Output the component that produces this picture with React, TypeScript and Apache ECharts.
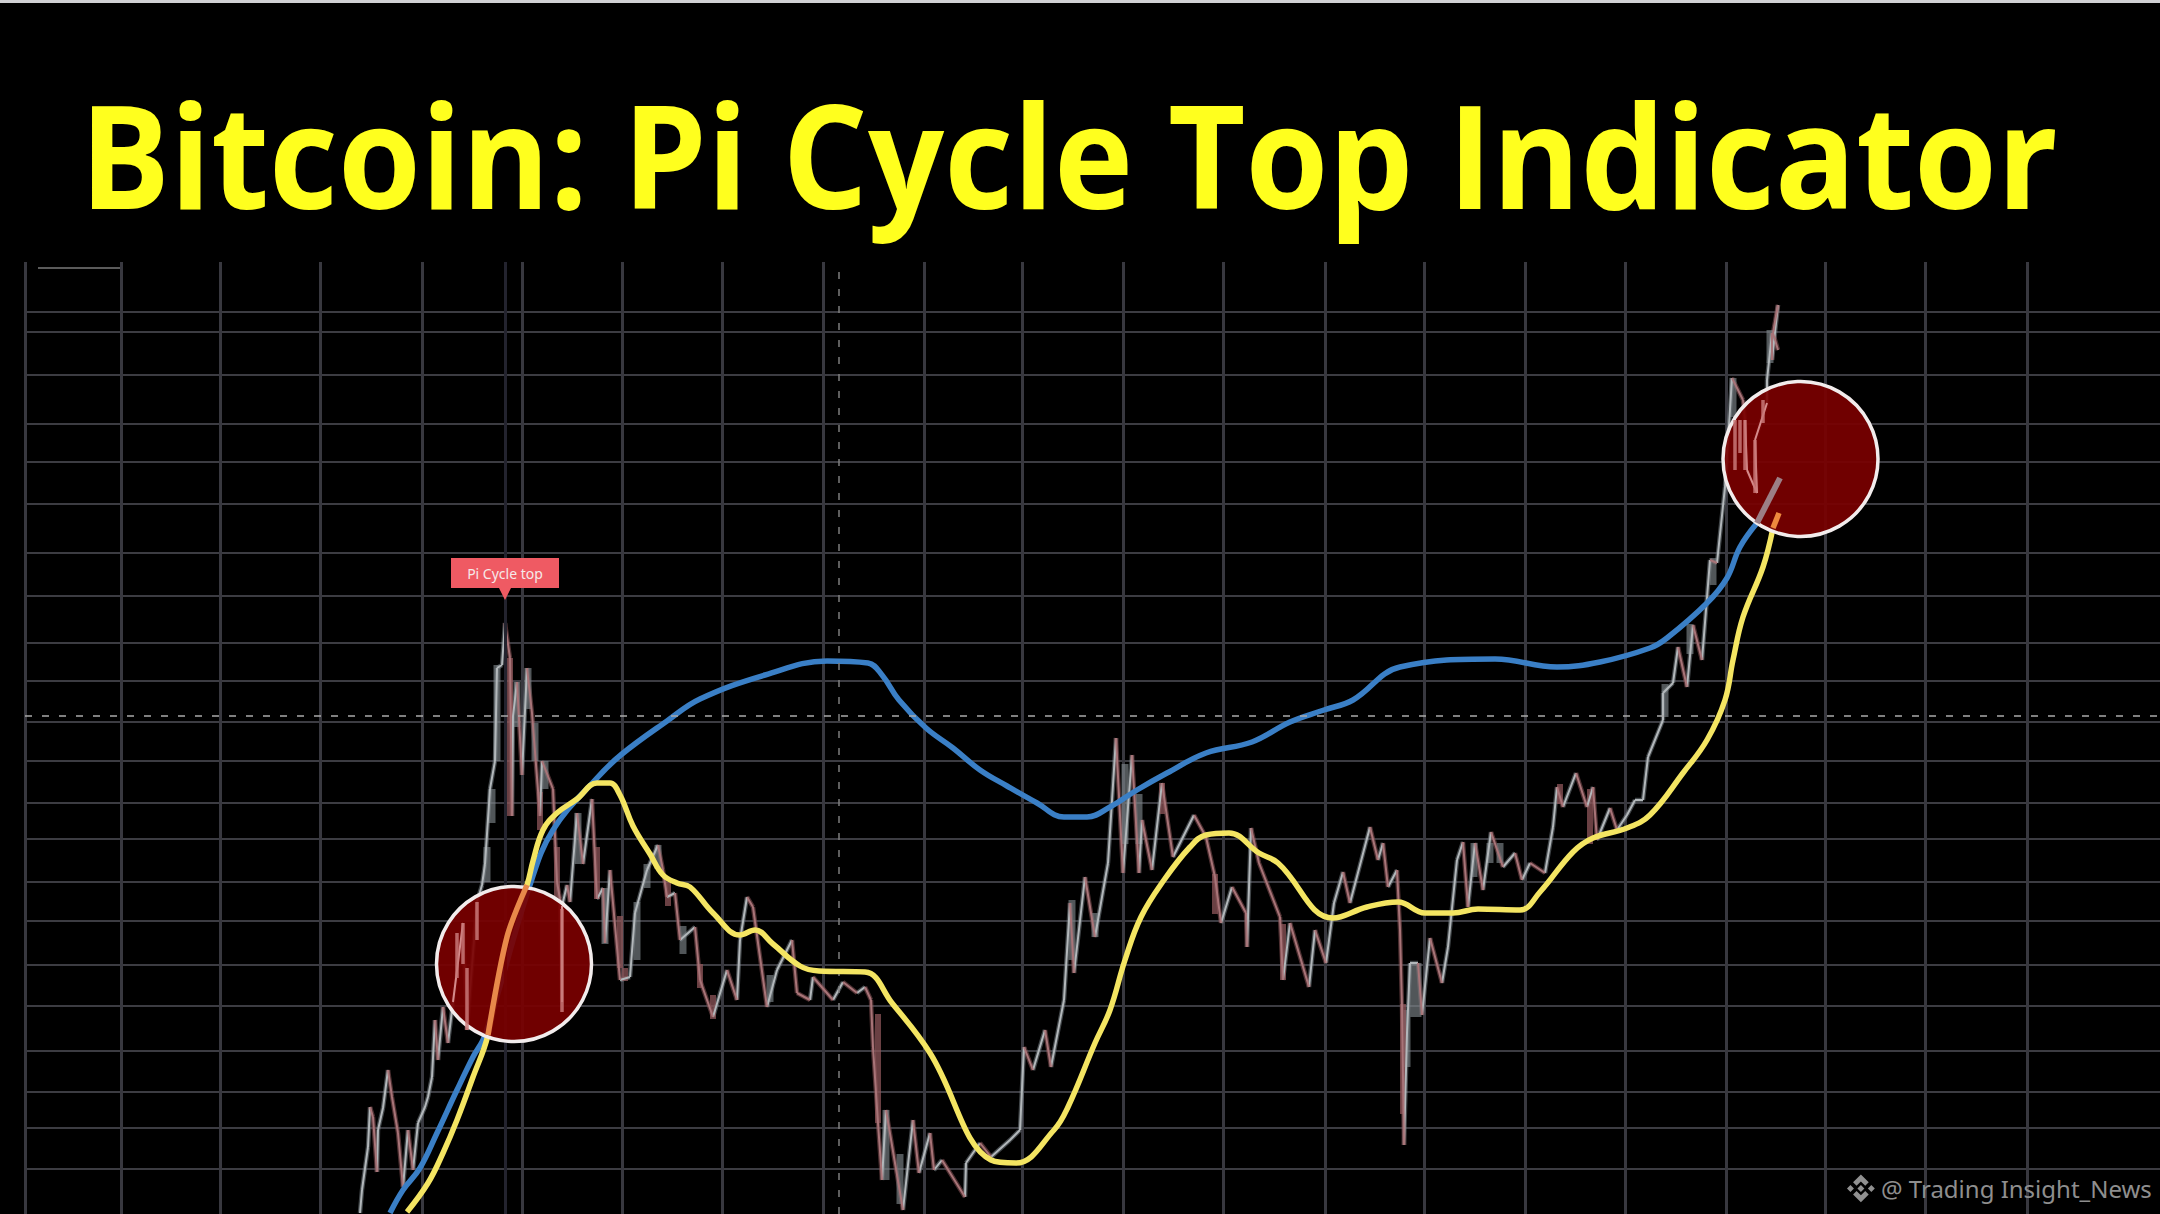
import React, { useEffect, useRef } from "react";
import * as echarts from "echarts";

const titleText = "Bitcoin: Pi Cycle Top Indicator";
const signalLabel = "Pi Cycle top";
const watermark = "@ Trading Insight_News";

const xGridValues = [25, 121, 220, 320, 422, 522, 622, 722, 823, 924, 1022, 1123, 1223, 1325, 1424, 1525, 1625, 1726, 1825, 1925, 2027, 2126];
const yGridValues = [920, 902, 882, 839, 790, 752, 710, 661, 618, 571, 533, 492, 453, 411, 375, 332, 293, 249, 208, 163, 122, 86, 45, 7];

const crosshairX = 839;
const crosshairLevel = 498;
const peakMarkerX = 505;
const signalPoint = [505, 635];
const crossPoints = [[514, 250], [1800.5, 755]];

const blueX = [390, 403, 420, 437, 457, 473, 485, 530, 553, 597, 622, 667, 700, 765, 827, 868, 882, 899, 926, 953, 980, 1007, 1037, 1064, 1087, 1110, 1137, 1167, 1206, 1252, 1290, 1324, 1353, 1400, 1495, 1557, 1600, 1650, 1667, 1707, 1727, 1740, 1757];
const blueLevel = [1, 24, 46, 81, 124, 157, 179, 329, 384, 436, 460, 493, 515, 539, 553, 551, 539, 514, 486, 466, 444, 428, 411, 397, 397, 407, 424, 441, 461, 472, 492, 504, 514, 547, 555, 547, 552, 566, 576, 611, 636, 667, 691];

const yellowX = [407, 428, 443, 457, 473, 488, 507, 527, 533, 543, 557, 577, 597, 610, 620, 633, 650, 663, 677, 690, 713, 740, 755, 773, 800, 819, 865, 892, 930, 991, 1016, 1054, 1068, 1095, 1110, 1125, 1141, 1164, 1190, 1206, 1229, 1259, 1278, 1333, 1367, 1398, 1425, 1453, 1478, 1520, 1540, 1573, 1593, 1627, 1650, 1683, 1707, 1725, 1733, 1743, 1763, 1773];
const yellowLevel = [2, 31, 61, 94, 137, 179, 277, 329, 353, 384, 401, 415, 431, 431, 419, 388, 360, 339, 331, 327, 301, 279, 284, 270, 248, 243, 242, 211, 161, 54, 51, 84, 107, 171, 204, 254, 297, 334, 367, 379, 381, 361, 351, 296, 307, 312, 301, 301, 305, 304, 322, 362, 376, 386, 399, 441, 474, 514, 554, 597, 647, 686];

const yellowInCircle = [[[488, 179], [507, 277], [527, 329]], [[1773, 686], [1779, 701]]];
const blueInCircle = [[1757, 691], [1780, 736]];

const price = [[360, 1], [362, 24], [368, 67], [370, 107], [373, 97], [377, 42], [378, 84], [383, 106], [388, 144], [392, 117], [398, 81], [403, 27], [408, 84], [413, 44], [418, 91], [425, 107], [428, 117], [432, 137], [435, 194], [438, 154], [443, 207], [448, 171], [453, 212], [463, 291], [467, 184], [477, 312], [482, 329], [485, 350], [490, 425], [495, 453], [497, 546], [502, 549], [505, 591], [510, 556], [512, 398], [513, 498], [517, 532], [522, 439], [527, 546], [532, 501], [540, 398], [542, 453], [553, 425], [557, 332], [560, 315], [562, 212], [562, 308], [567, 329], [570, 312], [577, 401], [583, 350], [592, 415], [597, 315], [603, 326], [605, 271], [610, 344], [620, 234], [630, 237], [635, 301], [647, 344], [658, 369], [663, 344], [667, 317], [675, 321], [680, 274], [695, 287], [700, 234], [713, 197], [727, 244], [737, 214], [740, 274], [747, 317], [753, 307], [767, 207], [777, 244], [792, 274], [797, 221], [810, 214], [813, 237], [833, 214], [843, 232], [857, 221], [865, 227], [871, 214], [873, 167], [878, 91], [882, 34], [886, 104], [903, 4], [913, 94], [919, 41], [930, 81], [934, 44], [942, 54], [965, 17], [966, 51], [980, 71], [991, 57], [1010, 74], [1020, 84], [1024, 167], [1033, 144], [1045, 184], [1051, 147], [1064, 214], [1070, 311], [1074, 241], [1085, 337], [1095, 277], [1102, 317], [1108, 351], [1116, 476], [1123, 341], [1132, 459], [1139, 341], [1142, 394], [1152, 344], [1162, 431], [1173, 357], [1194, 399], [1206, 377], [1215, 337], [1221, 291], [1232, 327], [1246, 301], [1247, 267], [1251, 386], [1259, 351], [1280, 297], [1283, 234], [1290, 291], [1309, 227], [1315, 284], [1326, 251], [1334, 311], [1343, 342], [1350, 311], [1370, 387], [1378, 354], [1383, 371], [1388, 327], [1397, 344], [1400, 284], [1402, 207], [1404, 69], [1407, 181], [1410, 251], [1418, 251], [1422, 199], [1430, 276], [1442, 231], [1448, 267], [1457, 354], [1463, 372], [1468, 307], [1475, 371], [1483, 324], [1491, 382], [1503, 347], [1515, 361], [1522, 334], [1530, 351], [1545, 341], [1553, 387], [1557, 427], [1563, 407], [1576, 441], [1587, 407], [1593, 427], [1597, 374], [1610, 406], [1617, 384], [1627, 399], [1635, 414], [1643, 414], [1648, 457], [1663, 494], [1663, 521], [1673, 531], [1678, 567], [1687, 527], [1693, 589], [1702, 554], [1710, 654], [1717, 651], [1725, 727], [1732, 836], [1743, 814], [1745, 794], [1747, 744], [1757, 721], [1755, 774], [1767, 811], [1767, 834], [1772, 881], [1772, 854], [1778, 909], [1773, 881], [1778, 864]];

// Candle bodies: [x, low, high]
const greyBodies = [[497, 453, 549], [492, 391, 425], [487, 332, 367], [528, 505, 546], [517, 487, 532], [535, 453, 491], [545, 425, 453], [578, 350, 401], [605, 270, 326], [637, 254, 312], [647, 326, 350], [658, 345, 369], [683, 260, 288], [770, 212, 239], [886, 34, 104], [900, 10, 60], [1072, 254, 314], [1095, 277, 301], [1125, 370, 450], [1139, 370, 420], [1407, 147, 204], [1412, 197, 251], [1418, 197, 251], [1474, 337, 371], [1490, 351, 371], [1500, 351, 371], [1713, 629, 656], [1733, 797, 836], [1770, 851, 884], [1665, 497, 530], [1690, 560, 590]];
const pinkBodies = [[510, 398, 556], [540, 384, 422], [557, 315, 367], [597, 315, 367], [620, 246, 298], [625, 233, 246], [668, 308, 332], [700, 226, 250], [713, 195, 219], [878, 91, 200], [1162, 400, 431], [1215, 300, 340], [1403, 100, 210], [1560, 410, 430], [1590, 370, 425], [1283, 234, 290]];
const circleBodies = [[1745, 744, 794], [1755, 721, 774], [1763, 791, 814], [1735, 744, 794], [1740, 761, 794], [457, 236, 281], [463, 250, 291], [467, 184, 246], [477, 274, 312], [562, 202, 305]];

const zip = (xs: number[], ys: number[]) => xs.map((x, i) => [x, ys[i]]);

type Seg = number[][];
const segments = (): Seg[] => price.slice(1).map((p, i) => [price[i], p]);
const flatten = (segs: Seg[]) => {
  const out: any[] = [];
  segs.forEach((s) => { out.push(s[0], s[1], [null, null]); });
  return out;
};
const bodySegs = (bodies: number[][]): Seg[] => bodies.map(([x, lo, hi]) => [[x, lo], [x, hi]]);
const inCircle = (p: number[]) => crossPoints.some((c) => Math.hypot(p[0] - c[0], p[1] - c[1]) < 76);
const rising = flatten(segments().filter((s) => s[1][1] >= s[0][1]));
const falling = flatten(segments().filter((s) => s[1][1] < s[0][1]));
const circled = flatten(segments().filter((s) => inCircle(s[0]) && inCircle(s[1])));

const logoPath = "M12 9.6L14.4 12L12 14.4L9.6 12ZM4.8 9.6L7.2 12L4.8 14.4L2.4 12ZM19.2 9.6L21.6 12L19.2 14.4L16.8 12ZM12 2.4L17.4 7.8L15 10.2L12 7.2L9 10.2L6.6 7.8ZM12 21.6L6.6 16.2L9 13.8L12 16.8L15 13.8L17.4 16.2Z";
echarts.graphic.registerShape("brandLogo", echarts.graphic.extendPath(logoPath as any, {}) as any);

const lineBase = { type: "line", showSymbol: false, symbol: "none", silent: true, connectNulls: false };

export default function App() {
  const ref = useRef<HTMLDivElement>(null);
  useEffect(() => {
    document.body.style.margin = "0";
    document.body.style.background = "#000";
    const chart = echarts.init(ref.current!, undefined, { renderer: "svg" });
    chart.setOption({
      animation: false,
      backgroundColor: "#000000",
      grid: { left: 25, right: 0, top: 262, bottom: 0 },
      xAxis: {
        type: "value", min: 25, max: 2160,
        axisLine: { show: false }, axisLabel: { show: false },
        axisTick: { show: false, customValues: xGridValues },
        splitLine: { show: true, showMinLine: true, showMaxLine: false, lineStyle: { color: "#38383f", width: 3 } },
      },
      yAxis: {
        type: "value", min: 0, max: 952,
        axisLine: { show: false }, axisLabel: { show: false },
        axisTick: { show: false, customValues: yGridValues },
        splitLine: { show: true, showMinLine: false, showMaxLine: false, lineStyle: { color: "#3c3c42", width: 2 } },
      },
      series: [
        {
          ...lineBase, name: "Crosshair", data: [], z: 2,
          markLine: {
            silent: true, symbol: ["none", "none"], animation: false, label: { show: false },
            data: [
              { xAxis: peakMarkerX, lineStyle: { color: "#23232e", width: 3, type: "solid" } },
              { yAxis: crosshairLevel, lineStyle: { color: "#aaaaaa", width: 1.5, type: [7, 10] } },
              { xAxis: crosshairX, lineStyle: { color: "#7d7d7d", width: 1.5, type: [7, 10] } },
            ],
          },
        },
        { ...lineBase, name: "Price body up", data: rising, z: 3, lineStyle: { color: "#7f8a90", width: 4.5, opacity: 0.5 } },
        { ...lineBase, name: "Price body down", data: falling, z: 3, lineStyle: { color: "#8d565a", width: 4.5, opacity: 0.55 } },
        { ...lineBase, name: "Grey candles", data: flatten(bodySegs(greyBodies)), z: 3, lineStyle: { color: "#7d8488", width: 7, opacity: 0.65 } },
        { ...lineBase, name: "Pink candles", data: flatten(bodySegs(pinkBodies)), z: 3, lineStyle: { color: "#8d565a", width: 6, opacity: 0.75 } },
        { ...lineBase, name: "Price up", data: rising, z: 3, lineStyle: { color: "#b2b7ba", width: 2 } },
        { ...lineBase, name: "Price down", data: falling, z: 3, lineStyle: { color: "#a87478", width: 2 } },
        { ...lineBase, name: "350 DMA x 2", data: zip(blueX, blueLevel), smooth: 0.4, z: 4, lineStyle: { color: "#3a7fc6", width: 5.5 } },
        { ...lineBase, name: "111 DMA", data: zip(yellowX, yellowLevel), smooth: 0.4, z: 5, lineStyle: { color: "#f4e562", width: 5.5 } },
        {
          type: "scatter", name: "Cross", data: crossPoints, symbol: "circle", symbolSize: 155, silent: true, z: 6,
          itemStyle: { color: "rgba(122,0,0,0.92)", borderColor: "#f2ecec", borderWidth: 3.5, opacity: 1 },
        },
        { ...lineBase, name: "Price in circle", data: circled, z: 7, lineStyle: { color: "#d58b8b", width: 2 } },
        { ...lineBase, name: "Candles in circle", data: flatten(bodySegs(circleBodies)), z: 7, lineStyle: { color: "#c87878", width: 3.5, opacity: 0.85 } },
        { ...lineBase, name: "111 DMA in circle", data: yellowInCircle[0], smooth: 0.3, z: 7, lineStyle: { color: "#e8894a", width: 5.5 } },
        { ...lineBase, name: "111 DMA end", data: yellowInCircle[1], z: 7, lineStyle: { color: "#ee8a3e", width: 5.5 } },
        { ...lineBase, name: "350 DMA end", data: blueInCircle, z: 7, lineStyle: { color: "#9c7f86", width: 6 } },
        {
          type: "scatter", name: "Signal", data: [signalPoint], silent: true, z: 8,
          symbol: "path://M0 0H108V30H60L54 42L48 30H0Z", symbolSize: [108, 42], symbolKeepAspect: false,
          itemStyle: { color: "#ef5a63", opacity: 1 },
          label: { show: true, formatter: signalLabel, position: ["50%", "36%"], align: "center", verticalAlign: "middle", color: "#f6e9e9", fontSize: 14, fontFamily: "Noto Sans" },
        },
      ],
      graphic: [
        { type: "rect", shape: { x: 0, y: 0, width: 2160, height: 3 }, style: { fill: "#d0d0d4" }, z: 20 },
        { type: "text", x: 80, y: 82, scaleX: 0.937, style: { text: titleText, fill: "#ffff1e", font: '700 143px "Open Sans"', textVerticalAlign: "top" }, z: 20 },
        { type: "line", shape: { x1: 38, y1: 268, x2: 120, y2: 268 }, style: { stroke: "#7a7a7a", lineWidth: 1.5 }, z: 20 },
        { type: "brandLogo", x: 1843.5, y: 1171, scaleX: 1.45, scaleY: 1.45, style: { fill: "#909090" }, z: 20 },
        { type: "text", x: 1881, y: 1188, style: { text: watermark, fill: "#8e8e8e", font: '24px "Noto Sans"', textVerticalAlign: "middle" }, z: 20 },
      ],
    });
    return () => chart.dispose();
  }, []);
  return <div ref={ref} style={{ position: "fixed", left: 0, top: 0, width: 2160, height: 1214 }} />;
}
